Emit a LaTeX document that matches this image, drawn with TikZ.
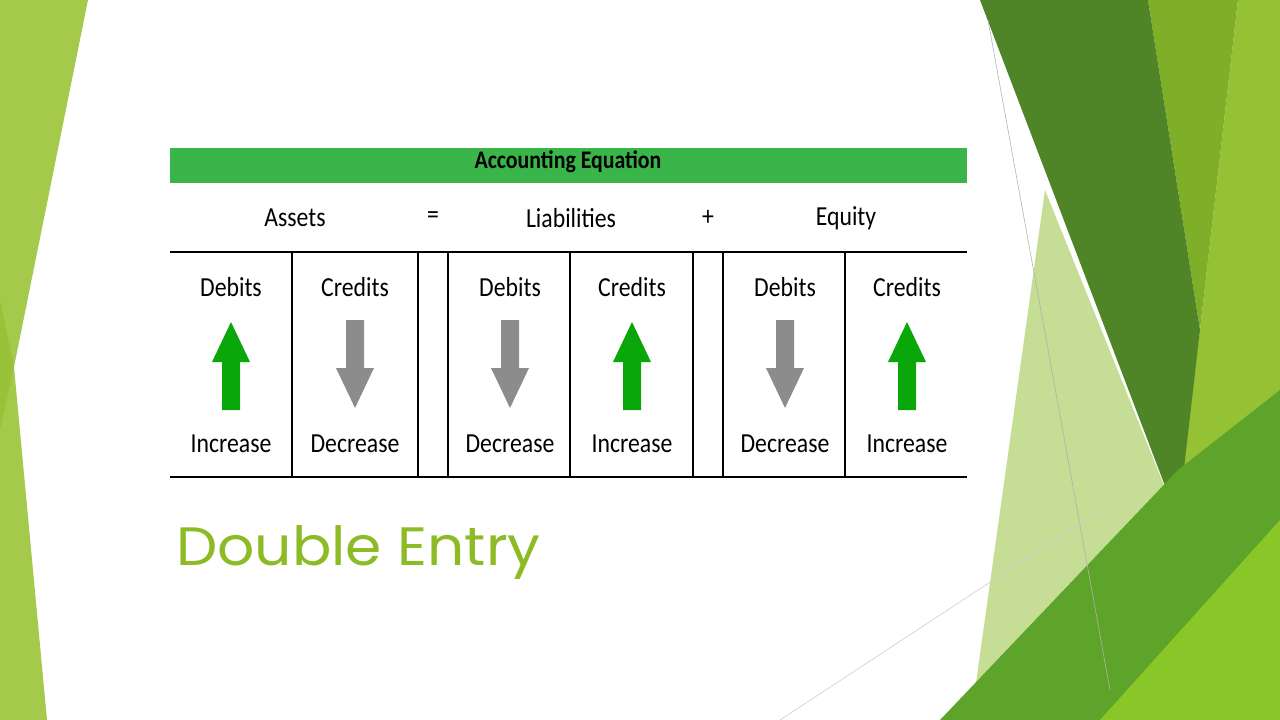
\documentclass[tikz,border=0pt]{standalone}
\usepackage{fontspec}
\setmainfont{Carlito}
\newfontfamily\titlefont{Poppins}
\definecolor{barg}{HTML}{39B54A}
\definecolor{arg}{HTML}{0AA70A}
\definecolor{arx}{HTML}{8C8C8C}
\definecolor{dk}{HTML}{4F8526}
\definecolor{md}{HTML}{7FAE28}
\definecolor{lt}{HTML}{95C234}
\definecolor{pl}{HTML}{C5DD94}
\definecolor{br}{HTML}{5EA32A}
\definecolor{ll}{HTML}{A5C94A}
\definecolor{tt}{HTML}{8CBB26}
\tikzset{
 lbl/.style={font=\fontsize{25}{27}\selectfont,inner sep=0pt,yscale=1.1,xscale=0.95},
 uparrow/.style={fill=arg},
 dnarrow/.style={fill=arx},
 rule/.style={line width=2.2pt},
 vrule/.style={line width=1.4pt}
}
\begin{document}
\begin{tikzpicture}[x=1pt,y=-1pt]
\useasboundingbox (0,0) rectangle (1280,720);
% left decoration
\fill[ll] (0,0) -- (88,0) -- (14,367) -- (47,720) -- (0,720) -- cycle;
\fill[lt!80!ll] (0,300) -- (14,367) -- (0,430) -- cycle;
% right decoration
\fill[lt] (1238,0) -- (1280,0) -- (1280,720) -- (1150,720) -- (1200,330) -- cycle;
\fill[md] (1148,0) -- (1238,0) -- (1200,330) -- cycle;
\fill[pl] (1045,190) -- (1178,520) -- (1100,600) -- (975,690) -- cycle;
\fill[dk] (980,0) -- (1148,0) -- (1200,330) -- (1178,520) -- cycle;
\fill[br] (940,720) -- (1178,470) -- (1280,390) -- (1280,720) -- cycle;
\fill[lt!85!yellow!90!green, opacity=0.8] (1100,720) -- (1280,520) -- (1280,720) -- cycle;
\draw[gray!60, line width=0.6pt] (988,20) -- (1110,690);
\draw[gray!40, line width=0.6pt] (780,720) -- (1100,510);
% table
\fill[barg] (170,148) rectangle (967,183);
\node[font=\fontsize{23}{25}\selectfont\bfseries, inner sep=0pt, yscale=1.1, xscale=0.95] (hdr) at (568,162) {Accounting Equation};
\node[lbl] (as) at (295,218) {Assets};
\node[lbl] (eq) at (433,218) {=};
\node[lbl] (li) at (571,218) {Liabilities};
\node[lbl] (pl) at (708,218) {+};
\node[lbl] (eqy) at (846,218) {Equity};
\draw[rule] (170,252) -- (967,252);
\draw[rule] (170,477) -- (967,477);
\foreach \x in {292,418,448,570,693,723,845} \draw[vrule] (\x,252) -- (\x,477);
\foreach \x/\a/\b/\d in {231/Debits/Increase/u,355/Credits/Decrease/d,510/Debits/Decrease/d,632/Credits/Increase/u,785/Debits/Decrease/d,907/Credits/Increase/u}{
  \node[lbl] at (\x,287) {\a};
  \node[lbl] at (\x,444) {\b};
  \if u\d
    \fill[uparrow] (\x-9,410) -- (\x-9,362) -- (\x-19,362) -- (\x,322) -- (\x+19,362) -- (\x+9,362) -- (\x+9,410) -- cycle;
  \else
    \fill[dnarrow] (\x-9,320) -- (\x-9,368) -- (\x-19,368) -- (\x,408) -- (\x+19,368) -- (\x+9,368) -- (\x+9,320) -- cycle;
  \fi
}
\node[anchor=west, text=tt, font=\titlefont\fontsize{54}{60}\selectfont, inner sep=0pt, xscale=1.08] (title) at (176,552) {Double Entry};
\end{tikzpicture}
\end{document}
